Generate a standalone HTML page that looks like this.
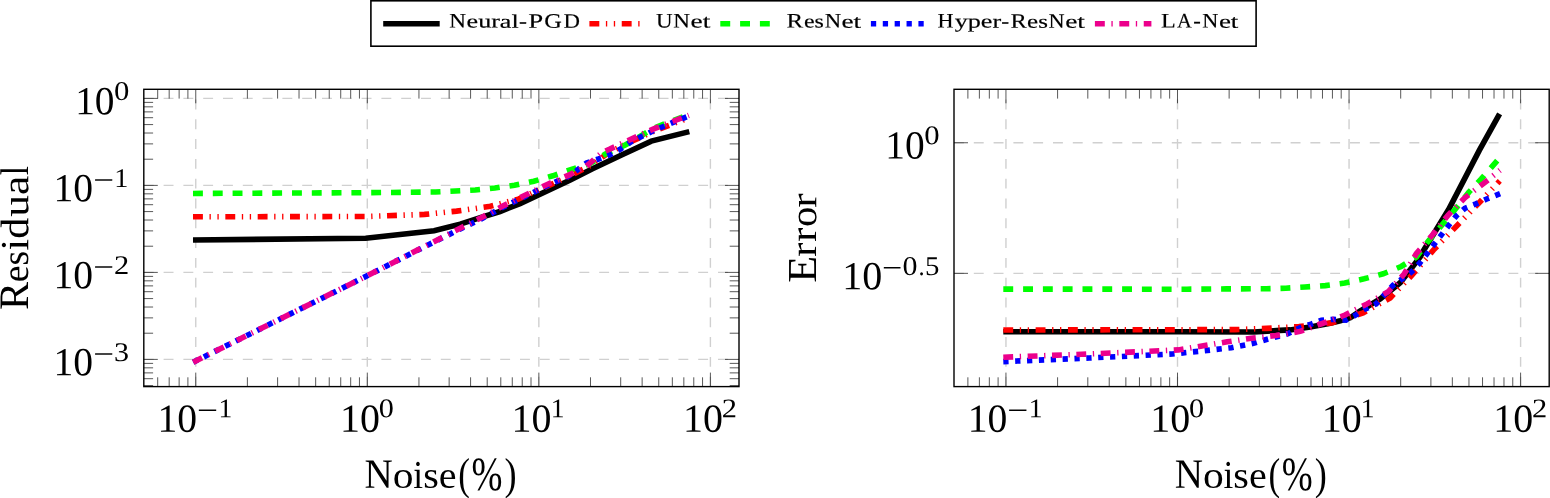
<!DOCTYPE html>
<html lang="en"><head><meta charset="utf-8"><title>Residual and Error vs Noise</title>
<style>html,body{margin:0;padding:0;background:#fff}svg{display:block}</style></head>
<body>
<svg width="1550" height="498" viewBox="0 0 1550 498" font-family="'Liberation Serif', serif" fill="#000" text-rendering="geometricPrecision">
<rect width="1550" height="498" fill="#fff"/>
<line x1="195.75" y1="386.6" x2="195.75" y2="89.3" stroke="#d0d0d0" stroke-width="1.4" stroke-dasharray="9.9 9.9"/>
<line x1="367.3" y1="386.6" x2="367.3" y2="89.3" stroke="#d0d0d0" stroke-width="1.4" stroke-dasharray="9.9 9.9"/>
<line x1="538.85" y1="386.6" x2="538.85" y2="89.3" stroke="#d0d0d0" stroke-width="1.4" stroke-dasharray="9.9 9.9"/>
<line x1="710.4" y1="386.6" x2="710.4" y2="89.3" stroke="#d0d0d0" stroke-width="1.4" stroke-dasharray="9.9 9.9"/>
<line x1="143.8" y1="98.4" x2="739" y2="98.4" stroke="#d0d0d0" stroke-width="1.4" stroke-dasharray="9.9 9.9"/>
<line x1="143.8" y1="185.4" x2="739" y2="185.4" stroke="#d0d0d0" stroke-width="1.4" stroke-dasharray="9.9 9.9"/>
<line x1="143.8" y1="272.4" x2="739" y2="272.4" stroke="#d0d0d0" stroke-width="1.4" stroke-dasharray="9.9 9.9"/>
<line x1="143.8" y1="359.4" x2="739" y2="359.4" stroke="#d0d0d0" stroke-width="1.4" stroke-dasharray="9.9 9.9"/>
<line x1="157.69" y1="386.6" x2="157.69" y2="377.3" stroke="#000" stroke-width="0.66"/>
<line x1="157.69" y1="89.3" x2="157.69" y2="98.6" stroke="#000" stroke-width="0.66"/>
<line x1="169.18" y1="386.6" x2="169.18" y2="377.3" stroke="#000" stroke-width="0.66"/>
<line x1="169.18" y1="89.3" x2="169.18" y2="98.6" stroke="#000" stroke-width="0.66"/>
<line x1="179.13" y1="386.6" x2="179.13" y2="377.3" stroke="#000" stroke-width="0.66"/>
<line x1="179.13" y1="89.3" x2="179.13" y2="98.6" stroke="#000" stroke-width="0.66"/>
<line x1="187.9" y1="386.6" x2="187.9" y2="377.3" stroke="#000" stroke-width="0.66"/>
<line x1="187.9" y1="89.3" x2="187.9" y2="98.6" stroke="#000" stroke-width="0.66"/>
<line x1="247.39" y1="386.6" x2="247.39" y2="377.3" stroke="#000" stroke-width="0.66"/>
<line x1="247.39" y1="89.3" x2="247.39" y2="98.6" stroke="#000" stroke-width="0.66"/>
<line x1="277.6" y1="386.6" x2="277.6" y2="377.3" stroke="#000" stroke-width="0.66"/>
<line x1="277.6" y1="89.3" x2="277.6" y2="98.6" stroke="#000" stroke-width="0.66"/>
<line x1="299.03" y1="386.6" x2="299.03" y2="377.3" stroke="#000" stroke-width="0.66"/>
<line x1="299.03" y1="89.3" x2="299.03" y2="98.6" stroke="#000" stroke-width="0.66"/>
<line x1="315.66" y1="386.6" x2="315.66" y2="377.3" stroke="#000" stroke-width="0.66"/>
<line x1="315.66" y1="89.3" x2="315.66" y2="98.6" stroke="#000" stroke-width="0.66"/>
<line x1="329.24" y1="386.6" x2="329.24" y2="377.3" stroke="#000" stroke-width="0.66"/>
<line x1="329.24" y1="89.3" x2="329.24" y2="98.6" stroke="#000" stroke-width="0.66"/>
<line x1="340.73" y1="386.6" x2="340.73" y2="377.3" stroke="#000" stroke-width="0.66"/>
<line x1="340.73" y1="89.3" x2="340.73" y2="98.6" stroke="#000" stroke-width="0.66"/>
<line x1="350.68" y1="386.6" x2="350.68" y2="377.3" stroke="#000" stroke-width="0.66"/>
<line x1="350.68" y1="89.3" x2="350.68" y2="98.6" stroke="#000" stroke-width="0.66"/>
<line x1="359.45" y1="386.6" x2="359.45" y2="377.3" stroke="#000" stroke-width="0.66"/>
<line x1="359.45" y1="89.3" x2="359.45" y2="98.6" stroke="#000" stroke-width="0.66"/>
<line x1="418.94" y1="386.6" x2="418.94" y2="377.3" stroke="#000" stroke-width="0.66"/>
<line x1="418.94" y1="89.3" x2="418.94" y2="98.6" stroke="#000" stroke-width="0.66"/>
<line x1="449.15" y1="386.6" x2="449.15" y2="377.3" stroke="#000" stroke-width="0.66"/>
<line x1="449.15" y1="89.3" x2="449.15" y2="98.6" stroke="#000" stroke-width="0.66"/>
<line x1="470.58" y1="386.6" x2="470.58" y2="377.3" stroke="#000" stroke-width="0.66"/>
<line x1="470.58" y1="89.3" x2="470.58" y2="98.6" stroke="#000" stroke-width="0.66"/>
<line x1="487.21" y1="386.6" x2="487.21" y2="377.3" stroke="#000" stroke-width="0.66"/>
<line x1="487.21" y1="89.3" x2="487.21" y2="98.6" stroke="#000" stroke-width="0.66"/>
<line x1="500.79" y1="386.6" x2="500.79" y2="377.3" stroke="#000" stroke-width="0.66"/>
<line x1="500.79" y1="89.3" x2="500.79" y2="98.6" stroke="#000" stroke-width="0.66"/>
<line x1="512.28" y1="386.6" x2="512.28" y2="377.3" stroke="#000" stroke-width="0.66"/>
<line x1="512.28" y1="89.3" x2="512.28" y2="98.6" stroke="#000" stroke-width="0.66"/>
<line x1="522.23" y1="386.6" x2="522.23" y2="377.3" stroke="#000" stroke-width="0.66"/>
<line x1="522.23" y1="89.3" x2="522.23" y2="98.6" stroke="#000" stroke-width="0.66"/>
<line x1="531" y1="386.6" x2="531" y2="377.3" stroke="#000" stroke-width="0.66"/>
<line x1="531" y1="89.3" x2="531" y2="98.6" stroke="#000" stroke-width="0.66"/>
<line x1="590.49" y1="386.6" x2="590.49" y2="377.3" stroke="#000" stroke-width="0.66"/>
<line x1="590.49" y1="89.3" x2="590.49" y2="98.6" stroke="#000" stroke-width="0.66"/>
<line x1="620.7" y1="386.6" x2="620.7" y2="377.3" stroke="#000" stroke-width="0.66"/>
<line x1="620.7" y1="89.3" x2="620.7" y2="98.6" stroke="#000" stroke-width="0.66"/>
<line x1="642.13" y1="386.6" x2="642.13" y2="377.3" stroke="#000" stroke-width="0.66"/>
<line x1="642.13" y1="89.3" x2="642.13" y2="98.6" stroke="#000" stroke-width="0.66"/>
<line x1="658.76" y1="386.6" x2="658.76" y2="377.3" stroke="#000" stroke-width="0.66"/>
<line x1="658.76" y1="89.3" x2="658.76" y2="98.6" stroke="#000" stroke-width="0.66"/>
<line x1="672.34" y1="386.6" x2="672.34" y2="377.3" stroke="#000" stroke-width="0.66"/>
<line x1="672.34" y1="89.3" x2="672.34" y2="98.6" stroke="#000" stroke-width="0.66"/>
<line x1="683.83" y1="386.6" x2="683.83" y2="377.3" stroke="#000" stroke-width="0.66"/>
<line x1="683.83" y1="89.3" x2="683.83" y2="98.6" stroke="#000" stroke-width="0.66"/>
<line x1="693.78" y1="386.6" x2="693.78" y2="377.3" stroke="#000" stroke-width="0.66"/>
<line x1="693.78" y1="89.3" x2="693.78" y2="98.6" stroke="#000" stroke-width="0.66"/>
<line x1="702.55" y1="386.6" x2="702.55" y2="377.3" stroke="#000" stroke-width="0.66"/>
<line x1="702.55" y1="89.3" x2="702.55" y2="98.6" stroke="#000" stroke-width="0.66"/>
<line x1="195.75" y1="386.6" x2="195.75" y2="372.6" stroke="#000" stroke-width="0.66"/>
<line x1="195.75" y1="89.3" x2="195.75" y2="103.3" stroke="#000" stroke-width="0.66"/>
<line x1="367.3" y1="386.6" x2="367.3" y2="372.6" stroke="#000" stroke-width="0.66"/>
<line x1="367.3" y1="89.3" x2="367.3" y2="103.3" stroke="#000" stroke-width="0.66"/>
<line x1="538.85" y1="386.6" x2="538.85" y2="372.6" stroke="#000" stroke-width="0.66"/>
<line x1="538.85" y1="89.3" x2="538.85" y2="103.3" stroke="#000" stroke-width="0.66"/>
<line x1="710.4" y1="386.6" x2="710.4" y2="372.6" stroke="#000" stroke-width="0.66"/>
<line x1="710.4" y1="89.3" x2="710.4" y2="103.3" stroke="#000" stroke-width="0.66"/>
<line x1="143.8" y1="385.59" x2="153.1" y2="385.59" stroke="#000" stroke-width="0.66"/>
<line x1="739" y1="385.59" x2="729.7" y2="385.59" stroke="#000" stroke-width="0.66"/>
<line x1="143.8" y1="378.7" x2="153.1" y2="378.7" stroke="#000" stroke-width="0.66"/>
<line x1="739" y1="378.7" x2="729.7" y2="378.7" stroke="#000" stroke-width="0.66"/>
<line x1="143.8" y1="372.88" x2="153.1" y2="372.88" stroke="#000" stroke-width="0.66"/>
<line x1="739" y1="372.88" x2="729.7" y2="372.88" stroke="#000" stroke-width="0.66"/>
<line x1="143.8" y1="367.83" x2="153.1" y2="367.83" stroke="#000" stroke-width="0.66"/>
<line x1="739" y1="367.83" x2="729.7" y2="367.83" stroke="#000" stroke-width="0.66"/>
<line x1="143.8" y1="363.38" x2="153.1" y2="363.38" stroke="#000" stroke-width="0.66"/>
<line x1="739" y1="363.38" x2="729.7" y2="363.38" stroke="#000" stroke-width="0.66"/>
<line x1="143.8" y1="333.21" x2="153.1" y2="333.21" stroke="#000" stroke-width="0.66"/>
<line x1="739" y1="333.21" x2="729.7" y2="333.21" stroke="#000" stroke-width="0.66"/>
<line x1="143.8" y1="317.89" x2="153.1" y2="317.89" stroke="#000" stroke-width="0.66"/>
<line x1="739" y1="317.89" x2="729.7" y2="317.89" stroke="#000" stroke-width="0.66"/>
<line x1="143.8" y1="307.02" x2="153.1" y2="307.02" stroke="#000" stroke-width="0.66"/>
<line x1="739" y1="307.02" x2="729.7" y2="307.02" stroke="#000" stroke-width="0.66"/>
<line x1="143.8" y1="298.59" x2="153.1" y2="298.59" stroke="#000" stroke-width="0.66"/>
<line x1="739" y1="298.59" x2="729.7" y2="298.59" stroke="#000" stroke-width="0.66"/>
<line x1="143.8" y1="291.7" x2="153.1" y2="291.7" stroke="#000" stroke-width="0.66"/>
<line x1="739" y1="291.7" x2="729.7" y2="291.7" stroke="#000" stroke-width="0.66"/>
<line x1="143.8" y1="285.88" x2="153.1" y2="285.88" stroke="#000" stroke-width="0.66"/>
<line x1="739" y1="285.88" x2="729.7" y2="285.88" stroke="#000" stroke-width="0.66"/>
<line x1="143.8" y1="280.83" x2="153.1" y2="280.83" stroke="#000" stroke-width="0.66"/>
<line x1="739" y1="280.83" x2="729.7" y2="280.83" stroke="#000" stroke-width="0.66"/>
<line x1="143.8" y1="276.38" x2="153.1" y2="276.38" stroke="#000" stroke-width="0.66"/>
<line x1="739" y1="276.38" x2="729.7" y2="276.38" stroke="#000" stroke-width="0.66"/>
<line x1="143.8" y1="246.21" x2="153.1" y2="246.21" stroke="#000" stroke-width="0.66"/>
<line x1="739" y1="246.21" x2="729.7" y2="246.21" stroke="#000" stroke-width="0.66"/>
<line x1="143.8" y1="230.89" x2="153.1" y2="230.89" stroke="#000" stroke-width="0.66"/>
<line x1="739" y1="230.89" x2="729.7" y2="230.89" stroke="#000" stroke-width="0.66"/>
<line x1="143.8" y1="220.02" x2="153.1" y2="220.02" stroke="#000" stroke-width="0.66"/>
<line x1="739" y1="220.02" x2="729.7" y2="220.02" stroke="#000" stroke-width="0.66"/>
<line x1="143.8" y1="211.59" x2="153.1" y2="211.59" stroke="#000" stroke-width="0.66"/>
<line x1="739" y1="211.59" x2="729.7" y2="211.59" stroke="#000" stroke-width="0.66"/>
<line x1="143.8" y1="204.7" x2="153.1" y2="204.7" stroke="#000" stroke-width="0.66"/>
<line x1="739" y1="204.7" x2="729.7" y2="204.7" stroke="#000" stroke-width="0.66"/>
<line x1="143.8" y1="198.88" x2="153.1" y2="198.88" stroke="#000" stroke-width="0.66"/>
<line x1="739" y1="198.88" x2="729.7" y2="198.88" stroke="#000" stroke-width="0.66"/>
<line x1="143.8" y1="193.83" x2="153.1" y2="193.83" stroke="#000" stroke-width="0.66"/>
<line x1="739" y1="193.83" x2="729.7" y2="193.83" stroke="#000" stroke-width="0.66"/>
<line x1="143.8" y1="189.38" x2="153.1" y2="189.38" stroke="#000" stroke-width="0.66"/>
<line x1="739" y1="189.38" x2="729.7" y2="189.38" stroke="#000" stroke-width="0.66"/>
<line x1="143.8" y1="159.21" x2="153.1" y2="159.21" stroke="#000" stroke-width="0.66"/>
<line x1="739" y1="159.21" x2="729.7" y2="159.21" stroke="#000" stroke-width="0.66"/>
<line x1="143.8" y1="143.89" x2="153.1" y2="143.89" stroke="#000" stroke-width="0.66"/>
<line x1="739" y1="143.89" x2="729.7" y2="143.89" stroke="#000" stroke-width="0.66"/>
<line x1="143.8" y1="133.02" x2="153.1" y2="133.02" stroke="#000" stroke-width="0.66"/>
<line x1="739" y1="133.02" x2="729.7" y2="133.02" stroke="#000" stroke-width="0.66"/>
<line x1="143.8" y1="124.59" x2="153.1" y2="124.59" stroke="#000" stroke-width="0.66"/>
<line x1="739" y1="124.59" x2="729.7" y2="124.59" stroke="#000" stroke-width="0.66"/>
<line x1="143.8" y1="117.7" x2="153.1" y2="117.7" stroke="#000" stroke-width="0.66"/>
<line x1="739" y1="117.7" x2="729.7" y2="117.7" stroke="#000" stroke-width="0.66"/>
<line x1="143.8" y1="111.88" x2="153.1" y2="111.88" stroke="#000" stroke-width="0.66"/>
<line x1="739" y1="111.88" x2="729.7" y2="111.88" stroke="#000" stroke-width="0.66"/>
<line x1="143.8" y1="106.83" x2="153.1" y2="106.83" stroke="#000" stroke-width="0.66"/>
<line x1="739" y1="106.83" x2="729.7" y2="106.83" stroke="#000" stroke-width="0.66"/>
<line x1="143.8" y1="102.38" x2="153.1" y2="102.38" stroke="#000" stroke-width="0.66"/>
<line x1="739" y1="102.38" x2="729.7" y2="102.38" stroke="#000" stroke-width="0.66"/>
<line x1="143.8" y1="98.4" x2="157.8" y2="98.4" stroke="#000" stroke-width="0.66"/>
<line x1="739" y1="98.4" x2="725" y2="98.4" stroke="#000" stroke-width="0.66"/>
<line x1="143.8" y1="185.4" x2="157.8" y2="185.4" stroke="#000" stroke-width="0.66"/>
<line x1="739" y1="185.4" x2="725" y2="185.4" stroke="#000" stroke-width="0.66"/>
<line x1="143.8" y1="272.4" x2="157.8" y2="272.4" stroke="#000" stroke-width="0.66"/>
<line x1="739" y1="272.4" x2="725" y2="272.4" stroke="#000" stroke-width="0.66"/>
<line x1="143.8" y1="359.4" x2="157.8" y2="359.4" stroke="#000" stroke-width="0.66"/>
<line x1="739" y1="359.4" x2="725" y2="359.4" stroke="#000" stroke-width="0.66"/>
<path d="M193 240 L365.7 238.2 L434.1 230.8 L460.2 224.1 L480.3 217.6 L500 211.5 L520 203.6 L570.3 180 L592 169 L622.1 154.7 L651.3 141.1 L689.3 131.6" fill="none" stroke="#000" stroke-width="5.6" stroke-linejoin="miter"/>
<path d="M193 216.8 L367 216.5 L424.5 214.4 L456.6 211.1 L488.8 206.6 L518.4 199.1 L546.7 186.5 L568.8 176.5 L590.4 165.5 L609.8 152 L632.4 141 L654.3 131 L676.4 122.5 L688.8 118" fill="none" stroke="#ff0000" stroke-width="5.6" stroke-linejoin="miter" stroke-dasharray="9.9 6.6 1.32 6.6 1.32 6.6"/>
<path d="M193 193.45 L367 192.7 L435.6 192 L455.6 191 L475.2 190 L494.8 188 L514.5 185.3 L533.8 181.2 L552.9 175.8 L571.5 169.4 L590.4 163.5 L605 154.3 L625.3 145 L640 136.5 L654.3 127.9 L676.4 119.3 L688.8 114.6" fill="none" stroke="#00ff00" stroke-width="5.6" stroke-linejoin="miter" stroke-dasharray="9.9 9.9"/>
<path d="M193.2 362.2 L367.1 275.8 L430 244 L460.2 229 L481.2 218.9 L502.8 207.3 L546.7 185.9 L568.8 176 L576.8 170.5 L586.5 163 L598.5 159 L609.4 155 L619.8 149.5 L632.4 141 L654.3 130.3 L676.4 121 L688.8 116" fill="none" stroke="#0000ff" stroke-width="5.6" stroke-linejoin="miter" stroke-dasharray="5.28 6.6"/>
<path d="M193.2 362.2 L367.1 275.8 L460.2 228.2 L481.2 217.7 L502.8 206.1 L546.7 184.7 L568.8 175.1 L586 166.5 L602 152.5 L609.8 149.1 L632.4 138.6 L654.3 128.6 L676.4 120 L688.8 115.4" fill="none" stroke="#ec008c" stroke-width="5.6" stroke-linejoin="miter" stroke-dasharray="9.9 6.6 1.32 6.6"/>
<rect x="143.8" y="89.3" width="595.2" height="297.3" fill="none" stroke="#000" stroke-width="1.4"/>
<line x1="1005.95" y1="386.6" x2="1005.95" y2="89.3" stroke="#d0d0d0" stroke-width="1.4" stroke-dasharray="9.9 9.9"/>
<line x1="1177.5" y1="386.6" x2="1177.5" y2="89.3" stroke="#d0d0d0" stroke-width="1.4" stroke-dasharray="9.9 9.9"/>
<line x1="1349.05" y1="386.6" x2="1349.05" y2="89.3" stroke="#d0d0d0" stroke-width="1.4" stroke-dasharray="9.9 9.9"/>
<line x1="1520.6" y1="386.6" x2="1520.6" y2="89.3" stroke="#d0d0d0" stroke-width="1.4" stroke-dasharray="9.9 9.9"/>
<line x1="954" y1="142.75" x2="1549.2" y2="142.75" stroke="#d0d0d0" stroke-width="1.4" stroke-dasharray="9.9 9.9"/>
<line x1="954" y1="273.35" x2="1549.2" y2="273.35" stroke="#d0d0d0" stroke-width="1.4" stroke-dasharray="9.9 9.9"/>
<line x1="967.89" y1="386.6" x2="967.89" y2="377.3" stroke="#000" stroke-width="0.66"/>
<line x1="967.89" y1="89.3" x2="967.89" y2="98.6" stroke="#000" stroke-width="0.66"/>
<line x1="979.38" y1="386.6" x2="979.38" y2="377.3" stroke="#000" stroke-width="0.66"/>
<line x1="979.38" y1="89.3" x2="979.38" y2="98.6" stroke="#000" stroke-width="0.66"/>
<line x1="989.33" y1="386.6" x2="989.33" y2="377.3" stroke="#000" stroke-width="0.66"/>
<line x1="989.33" y1="89.3" x2="989.33" y2="98.6" stroke="#000" stroke-width="0.66"/>
<line x1="998.1" y1="386.6" x2="998.1" y2="377.3" stroke="#000" stroke-width="0.66"/>
<line x1="998.1" y1="89.3" x2="998.1" y2="98.6" stroke="#000" stroke-width="0.66"/>
<line x1="1057.59" y1="386.6" x2="1057.59" y2="377.3" stroke="#000" stroke-width="0.66"/>
<line x1="1057.59" y1="89.3" x2="1057.59" y2="98.6" stroke="#000" stroke-width="0.66"/>
<line x1="1087.8" y1="386.6" x2="1087.8" y2="377.3" stroke="#000" stroke-width="0.66"/>
<line x1="1087.8" y1="89.3" x2="1087.8" y2="98.6" stroke="#000" stroke-width="0.66"/>
<line x1="1109.23" y1="386.6" x2="1109.23" y2="377.3" stroke="#000" stroke-width="0.66"/>
<line x1="1109.23" y1="89.3" x2="1109.23" y2="98.6" stroke="#000" stroke-width="0.66"/>
<line x1="1125.86" y1="386.6" x2="1125.86" y2="377.3" stroke="#000" stroke-width="0.66"/>
<line x1="1125.86" y1="89.3" x2="1125.86" y2="98.6" stroke="#000" stroke-width="0.66"/>
<line x1="1139.44" y1="386.6" x2="1139.44" y2="377.3" stroke="#000" stroke-width="0.66"/>
<line x1="1139.44" y1="89.3" x2="1139.44" y2="98.6" stroke="#000" stroke-width="0.66"/>
<line x1="1150.93" y1="386.6" x2="1150.93" y2="377.3" stroke="#000" stroke-width="0.66"/>
<line x1="1150.93" y1="89.3" x2="1150.93" y2="98.6" stroke="#000" stroke-width="0.66"/>
<line x1="1160.88" y1="386.6" x2="1160.88" y2="377.3" stroke="#000" stroke-width="0.66"/>
<line x1="1160.88" y1="89.3" x2="1160.88" y2="98.6" stroke="#000" stroke-width="0.66"/>
<line x1="1169.65" y1="386.6" x2="1169.65" y2="377.3" stroke="#000" stroke-width="0.66"/>
<line x1="1169.65" y1="89.3" x2="1169.65" y2="98.6" stroke="#000" stroke-width="0.66"/>
<line x1="1229.14" y1="386.6" x2="1229.14" y2="377.3" stroke="#000" stroke-width="0.66"/>
<line x1="1229.14" y1="89.3" x2="1229.14" y2="98.6" stroke="#000" stroke-width="0.66"/>
<line x1="1259.35" y1="386.6" x2="1259.35" y2="377.3" stroke="#000" stroke-width="0.66"/>
<line x1="1259.35" y1="89.3" x2="1259.35" y2="98.6" stroke="#000" stroke-width="0.66"/>
<line x1="1280.78" y1="386.6" x2="1280.78" y2="377.3" stroke="#000" stroke-width="0.66"/>
<line x1="1280.78" y1="89.3" x2="1280.78" y2="98.6" stroke="#000" stroke-width="0.66"/>
<line x1="1297.41" y1="386.6" x2="1297.41" y2="377.3" stroke="#000" stroke-width="0.66"/>
<line x1="1297.41" y1="89.3" x2="1297.41" y2="98.6" stroke="#000" stroke-width="0.66"/>
<line x1="1310.99" y1="386.6" x2="1310.99" y2="377.3" stroke="#000" stroke-width="0.66"/>
<line x1="1310.99" y1="89.3" x2="1310.99" y2="98.6" stroke="#000" stroke-width="0.66"/>
<line x1="1322.48" y1="386.6" x2="1322.48" y2="377.3" stroke="#000" stroke-width="0.66"/>
<line x1="1322.48" y1="89.3" x2="1322.48" y2="98.6" stroke="#000" stroke-width="0.66"/>
<line x1="1332.43" y1="386.6" x2="1332.43" y2="377.3" stroke="#000" stroke-width="0.66"/>
<line x1="1332.43" y1="89.3" x2="1332.43" y2="98.6" stroke="#000" stroke-width="0.66"/>
<line x1="1341.2" y1="386.6" x2="1341.2" y2="377.3" stroke="#000" stroke-width="0.66"/>
<line x1="1341.2" y1="89.3" x2="1341.2" y2="98.6" stroke="#000" stroke-width="0.66"/>
<line x1="1400.69" y1="386.6" x2="1400.69" y2="377.3" stroke="#000" stroke-width="0.66"/>
<line x1="1400.69" y1="89.3" x2="1400.69" y2="98.6" stroke="#000" stroke-width="0.66"/>
<line x1="1430.9" y1="386.6" x2="1430.9" y2="377.3" stroke="#000" stroke-width="0.66"/>
<line x1="1430.9" y1="89.3" x2="1430.9" y2="98.6" stroke="#000" stroke-width="0.66"/>
<line x1="1452.33" y1="386.6" x2="1452.33" y2="377.3" stroke="#000" stroke-width="0.66"/>
<line x1="1452.33" y1="89.3" x2="1452.33" y2="98.6" stroke="#000" stroke-width="0.66"/>
<line x1="1468.96" y1="386.6" x2="1468.96" y2="377.3" stroke="#000" stroke-width="0.66"/>
<line x1="1468.96" y1="89.3" x2="1468.96" y2="98.6" stroke="#000" stroke-width="0.66"/>
<line x1="1482.54" y1="386.6" x2="1482.54" y2="377.3" stroke="#000" stroke-width="0.66"/>
<line x1="1482.54" y1="89.3" x2="1482.54" y2="98.6" stroke="#000" stroke-width="0.66"/>
<line x1="1494.03" y1="386.6" x2="1494.03" y2="377.3" stroke="#000" stroke-width="0.66"/>
<line x1="1494.03" y1="89.3" x2="1494.03" y2="98.6" stroke="#000" stroke-width="0.66"/>
<line x1="1503.98" y1="386.6" x2="1503.98" y2="377.3" stroke="#000" stroke-width="0.66"/>
<line x1="1503.98" y1="89.3" x2="1503.98" y2="98.6" stroke="#000" stroke-width="0.66"/>
<line x1="1512.75" y1="386.6" x2="1512.75" y2="377.3" stroke="#000" stroke-width="0.66"/>
<line x1="1512.75" y1="89.3" x2="1512.75" y2="98.6" stroke="#000" stroke-width="0.66"/>
<line x1="1005.95" y1="386.6" x2="1005.95" y2="372.6" stroke="#000" stroke-width="0.66"/>
<line x1="1005.95" y1="89.3" x2="1005.95" y2="103.3" stroke="#000" stroke-width="0.66"/>
<line x1="1177.5" y1="386.6" x2="1177.5" y2="372.6" stroke="#000" stroke-width="0.66"/>
<line x1="1177.5" y1="89.3" x2="1177.5" y2="103.3" stroke="#000" stroke-width="0.66"/>
<line x1="1349.05" y1="386.6" x2="1349.05" y2="372.6" stroke="#000" stroke-width="0.66"/>
<line x1="1349.05" y1="89.3" x2="1349.05" y2="103.3" stroke="#000" stroke-width="0.66"/>
<line x1="1520.6" y1="386.6" x2="1520.6" y2="372.6" stroke="#000" stroke-width="0.66"/>
<line x1="1520.6" y1="89.3" x2="1520.6" y2="103.3" stroke="#000" stroke-width="0.66"/>
<line x1="954" y1="142.75" x2="968" y2="142.75" stroke="#000" stroke-width="0.66"/>
<line x1="1549.2" y1="142.75" x2="1535.2" y2="142.75" stroke="#000" stroke-width="0.66"/>
<line x1="954" y1="273.35" x2="968" y2="273.35" stroke="#000" stroke-width="0.66"/>
<line x1="1549.2" y1="273.35" x2="1535.2" y2="273.35" stroke="#000" stroke-width="0.66"/>
<path d="M1003.3 331.7 L1181 331.7 L1254 332 L1280 330.4 L1290 329.9 L1310.2 327 L1330.2 323.3 L1340.3 320.7 L1350.3 317.7 L1360 311 L1380.2 298.9 L1400.2 282.8 L1420.3 256.7 L1423.9 250 L1448.6 209.5 L1479.3 150.4 L1499.6 113.9" fill="none" stroke="#000" stroke-width="5.6" stroke-linejoin="miter"/>
<path d="M1003.3 330 L1235 329.6 L1266.4 328.4 L1299 326.6 L1331.5 322.9 L1363.1 312.9 L1390.2 297.9 L1411.3 275.8 L1433.4 250.1 L1455.7 227 L1478.9 203 L1499.8 180.9" fill="none" stroke="#ff0000" stroke-width="5.6" stroke-linejoin="miter" stroke-dasharray="9.8942 6.5962 1.3192 6.5962 1.3192 6.5962"/>
<path d="M1003.3 289.1 L1186.9 289.2 L1226.6 288.9 L1266.4 288.7 L1285.7 288.2 L1305 287 L1325.4 285.6 L1344.7 283.1 L1364.1 278.8 L1383.2 273.8 L1401.2 266.5 L1416.3 257.1 L1428.4 241 L1454.2 210.5 L1468.7 192.4 L1481.3 178.9 L1498.6 159" fill="none" stroke="#00ff00" stroke-width="5.6" stroke-linejoin="miter" stroke-dasharray="9.9 9.9"/>
<path d="M1003.3 361.6 L1089.4 358 L1172.4 354 L1207.3 350.4 L1231.4 347.7 L1254.3 343.1 L1266.4 339.5 L1288.1 333.7 L1299.4 328 L1311.1 324.1 L1321.5 320.3 L1333.5 319.3 L1346 320.1 L1356 314.9 L1364.8 309.2 L1376.1 303.9 L1393.2 285.2 L1411.3 272.2 L1419.7 263.1 L1427 253.8 L1434.4 244 L1449.1 224.9 L1456.3 215.9 L1464.8 208.4 L1475.9 203.9 L1486.7 199 L1500.2 193.6" fill="none" stroke="#0000ff" stroke-width="5.6" stroke-linejoin="miter" stroke-dasharray="5.2751 6.5939"/>
<path d="M1003.3 357.2 L1081.8 354.3 L1178.4 349.9 L1203.3 345.8 L1227.3 341.8 L1251.4 338.2 L1276 335.5 L1300.1 331.4 L1322.3 323.5 L1345 315 L1367.1 303.9 L1388.2 291.8 L1404.3 273.8 L1416.3 253.7 L1432.4 235 L1448.2 215 L1464.8 197.8 L1483.7 183.4 L1500 170.3" fill="none" stroke="#ec008c" stroke-width="5.6" stroke-linejoin="miter" stroke-dasharray="9.8803 6.5868 1.3174 6.5868"/>
<rect x="954" y="89.3" width="595.2" height="297.3" fill="none" stroke="#000" stroke-width="1.4"/>
<text transform="translate(157.57 431.7) rotate(0.03)"><tspan x="0" y="0" font-size="39.8" textLength="39.59" lengthAdjust="spacingAndGlyphs">10</tspan><tspan x="39.53" y="-12.45" font-size="27" textLength="20.97" lengthAdjust="spacingAndGlyphs">−</tspan><tspan x="60.86" y="-14.4" font-size="27" textLength="13.78" lengthAdjust="spacingAndGlyphs">1</tspan></text>
<text transform="translate(339.99 431.7) rotate(0.03)"><tspan x="0" y="0" font-size="39.8" textLength="39.93" lengthAdjust="spacingAndGlyphs">10</tspan><tspan x="38.76" y="-14.4" font-size="27" textLength="15.1" lengthAdjust="spacingAndGlyphs">0</tspan></text>
<text transform="translate(511.54 431.7) rotate(0.03)"><tspan x="0" y="0" font-size="39.8" textLength="39.93" lengthAdjust="spacingAndGlyphs">10</tspan><tspan x="39.09" y="-14.4" font-size="27" textLength="13.78" lengthAdjust="spacingAndGlyphs">1</tspan></text>
<text transform="translate(683.09 431.7) rotate(0.03)"><tspan x="0" y="0" font-size="39.8" textLength="39.93" lengthAdjust="spacingAndGlyphs">10</tspan><tspan x="38.67" y="-14.4" font-size="27" textLength="15.22" lengthAdjust="spacingAndGlyphs">2</tspan></text>
<text transform="translate(967.77 431.7) rotate(0.03)"><tspan x="0" y="0" font-size="39.8" textLength="39.59" lengthAdjust="spacingAndGlyphs">10</tspan><tspan x="39.53" y="-12.45" font-size="27" textLength="20.97" lengthAdjust="spacingAndGlyphs">−</tspan><tspan x="60.86" y="-14.4" font-size="27" textLength="13.78" lengthAdjust="spacingAndGlyphs">1</tspan></text>
<text transform="translate(1150.19 431.7) rotate(0.03)"><tspan x="0" y="0" font-size="39.8" textLength="39.93" lengthAdjust="spacingAndGlyphs">10</tspan><tspan x="38.76" y="-14.4" font-size="27" textLength="15.1" lengthAdjust="spacingAndGlyphs">0</tspan></text>
<text transform="translate(1321.74 431.7) rotate(0.03)"><tspan x="0" y="0" font-size="39.8" textLength="39.93" lengthAdjust="spacingAndGlyphs">10</tspan><tspan x="39.09" y="-14.4" font-size="27" textLength="13.78" lengthAdjust="spacingAndGlyphs">1</tspan></text>
<text transform="translate(1493.29 431.7) rotate(0.03)"><tspan x="0" y="0" font-size="39.8" textLength="39.93" lengthAdjust="spacingAndGlyphs">10</tspan><tspan x="38.67" y="-14.4" font-size="27" textLength="15.22" lengthAdjust="spacingAndGlyphs">2</tspan></text>
<text transform="translate(75.14 114.2) rotate(0.03)"><tspan x="0" y="0" font-size="39.8" textLength="39.36" lengthAdjust="spacingAndGlyphs">10</tspan><tspan x="38.89" y="-14.3" font-size="27" textLength="15.34" lengthAdjust="spacingAndGlyphs">0</tspan></text>
<text transform="translate(53.52 201.2) rotate(0.03)"><tspan x="0" y="0" font-size="39.8" textLength="39.59" lengthAdjust="spacingAndGlyphs">10</tspan><tspan x="39.64" y="-12.35" font-size="27" textLength="20.85" lengthAdjust="spacingAndGlyphs">−</tspan><tspan x="60.81" y="-14.3" font-size="27" textLength="14.06" lengthAdjust="spacingAndGlyphs">1</tspan></text>
<text transform="translate(53.52 288.2) rotate(0.03)"><tspan x="0" y="0" font-size="39.8" textLength="39.59" lengthAdjust="spacingAndGlyphs">10</tspan><tspan x="39.64" y="-12.35" font-size="27" textLength="20.85" lengthAdjust="spacingAndGlyphs">−</tspan><tspan x="60.54" y="-14.3" font-size="27" textLength="15.22" lengthAdjust="spacingAndGlyphs">2</tspan></text>
<text transform="translate(53.52 375.2) rotate(0.03)"><tspan x="0" y="0" font-size="39.8" textLength="39.59" lengthAdjust="spacingAndGlyphs">10</tspan><tspan x="39.64" y="-12.35" font-size="27" textLength="20.85" lengthAdjust="spacingAndGlyphs">−</tspan><tspan x="60.44" y="-14.3" font-size="27" textLength="15.01" lengthAdjust="spacingAndGlyphs">3</tspan></text>
<text transform="translate(885.34 158.55) rotate(0.03)"><tspan x="0" y="0" font-size="39.8" textLength="39.36" lengthAdjust="spacingAndGlyphs">10</tspan><tspan x="38.89" y="-14.3" font-size="27" textLength="15.34" lengthAdjust="spacingAndGlyphs">0</tspan></text>
<text transform="translate(842.18 289.15) rotate(0.03)"><tspan x="0" y="0" font-size="39.8" textLength="40.04" lengthAdjust="spacingAndGlyphs">10</tspan><tspan x="39.93" y="-12.35" font-size="27" textLength="20.24" lengthAdjust="spacingAndGlyphs">−</tspan><tspan x="60.28" y="-14.3" font-size="27" textLength="14.98" lengthAdjust="spacingAndGlyphs">0</tspan><tspan x="76.2" y="-14.3" font-size="27" textLength="6.14" lengthAdjust="spacingAndGlyphs">.</tspan><tspan x="82.75" y="-14.3" font-size="27" textLength="14.4" lengthAdjust="spacingAndGlyphs">5</tspan></text>
<text transform="translate(364.57 487.8) rotate(0.03)"><tspan x="0" y="0" font-size="41.6" textLength="28.22" lengthAdjust="spacingAndGlyphs">N</tspan><tspan x="28.14" y="0" font-size="37.6" textLength="20.76" lengthAdjust="spacingAndGlyphs">o</tspan><tspan x="48.68" y="0" font-size="39.6" textLength="9.81" lengthAdjust="spacingAndGlyphs">i</tspan><tspan x="58.58" y="0" font-size="37.6" textLength="33.33" lengthAdjust="spacingAndGlyphs">se</tspan><tspan x="93.69" y="1.5" font-size="44.8" textLength="11.67" lengthAdjust="spacingAndGlyphs">(</tspan><tspan x="107.06" y="1.8" font-size="47.6" textLength="30.94" lengthAdjust="spacingAndGlyphs">%</tspan><tspan x="139.86" y="1.5" font-size="44.8" textLength="12.06" lengthAdjust="spacingAndGlyphs">)</tspan></text>
<text transform="translate(1174.77 487.8) rotate(0.03)"><tspan x="0" y="0" font-size="41.6" textLength="28.22" lengthAdjust="spacingAndGlyphs">N</tspan><tspan x="28.14" y="0" font-size="37.6" textLength="20.76" lengthAdjust="spacingAndGlyphs">o</tspan><tspan x="48.68" y="0" font-size="39.6" textLength="9.81" lengthAdjust="spacingAndGlyphs">i</tspan><tspan x="58.58" y="0" font-size="37.6" textLength="33.33" lengthAdjust="spacingAndGlyphs">se</tspan><tspan x="93.69" y="1.5" font-size="44.8" textLength="11.67" lengthAdjust="spacingAndGlyphs">(</tspan><tspan x="107.06" y="1.8" font-size="47.6" textLength="30.94" lengthAdjust="spacingAndGlyphs">%</tspan><tspan x="139.86" y="1.5" font-size="44.8" textLength="12.06" lengthAdjust="spacingAndGlyphs">)</tspan></text>
<text transform="translate(28.1 310.01) rotate(-89.97)"><tspan x="0" y="0" font-size="42" textLength="28.07" lengthAdjust="spacingAndGlyphs">R</tspan><tspan x="27.83" y="0" font-size="37.6" textLength="31.55" lengthAdjust="spacingAndGlyphs">es</tspan><tspan x="59.45" y="0" font-size="40" textLength="11.45" lengthAdjust="spacingAndGlyphs">i</tspan><tspan x="71.29" y="0" font-size="40" textLength="21.03" lengthAdjust="spacingAndGlyphs">d</tspan><tspan x="93.34" y="0" font-size="37.6" textLength="41.07" lengthAdjust="spacingAndGlyphs">ua</tspan><tspan x="134.65" y="0" font-size="40" textLength="9.23" lengthAdjust="spacingAndGlyphs">l</tspan></text>
<text transform="translate(816.1 282.87) rotate(-89.97)"><tspan x="0" y="0" font-size="41.2" textLength="26.86" lengthAdjust="spacingAndGlyphs">E</tspan><tspan x="26.22" y="0" font-size="37.6" textLength="14.12" lengthAdjust="spacingAndGlyphs">r</tspan><tspan x="41.12" y="0" font-size="37.6" textLength="14.01" lengthAdjust="spacingAndGlyphs">r</tspan><tspan x="55.81" y="0" font-size="37.6" textLength="20.41" lengthAdjust="spacingAndGlyphs">o</tspan><tspan x="75.2" y="0" font-size="37.6" textLength="14.45" lengthAdjust="spacingAndGlyphs">r</tspan></text>
<rect x="370.9" y="0.8" width="885.2" height="45.4" fill="#fff" stroke="#000" stroke-width="1.6"/>
<path d="M383.2 23.7 L439.7 23.7" fill="none" stroke="#000" stroke-width="5.6"/>
<path d="M589.4 23.7 L645.9 23.7" fill="none" stroke="#ff0000" stroke-width="5.6" stroke-dasharray="9.9 6.6 1.32 6.6 1.32 6.6"/>
<path d="M720.3 23.7 L776.8 23.7" fill="none" stroke="#00ff00" stroke-width="5.6" stroke-dasharray="9.9 9.9"/>
<path d="M870.9 23.7 L927.4 23.7" fill="none" stroke="#0000ff" stroke-width="5.6" stroke-dasharray="5.28 6.6"/>
<path d="M1094.9 23.7 L1151.4 23.7" fill="none" stroke="#ec008c" stroke-width="5.6" stroke-dasharray="9.9 6.6 1.32 6.6"/>
<text transform="translate(449.23 27.6) rotate(0.03)" stroke="#000" stroke-width="0.18"><tspan x="0" y="0" font-size="20.6" textLength="16.75" lengthAdjust="spacingAndGlyphs">N</tspan><tspan x="17.35" y="0" font-size="19.16" textLength="52.14" lengthAdjust="spacingAndGlyphs">eural</tspan><tspan x="69.68" y="0" font-size="20.6" textLength="7.95" lengthAdjust="spacingAndGlyphs">-</tspan><tspan x="79.09" y="0" font-size="20.6" textLength="14.95" lengthAdjust="spacingAndGlyphs">P</tspan><tspan x="94.97" y="0" font-size="20.6" textLength="17.56" lengthAdjust="spacingAndGlyphs">G</tspan><tspan x="114.21" y="0" font-size="20.6" textLength="16.47" lengthAdjust="spacingAndGlyphs">D</tspan></text>
<text transform="translate(656.12 27.6) rotate(0.03)" stroke="#000" stroke-width="0.18"><tspan x="0" y="0" font-size="20.6" textLength="16.56" lengthAdjust="spacingAndGlyphs">U</tspan><tspan x="17.22" y="0" font-size="20.6" textLength="16.7" lengthAdjust="spacingAndGlyphs">N</tspan><tspan x="34.41" y="0" font-size="19.16" textLength="19.73" lengthAdjust="spacingAndGlyphs">et</tspan></text>
<text transform="translate(786.48 27.6) rotate(0.03)" stroke="#000" stroke-width="0.18"><tspan x="0" y="0" font-size="20.6" textLength="16.66" lengthAdjust="spacingAndGlyphs">R</tspan><tspan x="17.49" y="0" font-size="19.16" textLength="19.9" lengthAdjust="spacingAndGlyphs">es</tspan><tspan x="38.37" y="0" font-size="20.6" textLength="16.37" lengthAdjust="spacingAndGlyphs">N</tspan><tspan x="54.96" y="0" font-size="19.16" textLength="19.62" lengthAdjust="spacingAndGlyphs">et</tspan></text>
<text transform="translate(937.61 27.6) rotate(0.03)" stroke="#000" stroke-width="0.18"><tspan x="0" y="0" font-size="20.6" textLength="16.04" lengthAdjust="spacingAndGlyphs">H</tspan><tspan x="17.07" y="0" font-size="19.16" textLength="46.55" lengthAdjust="spacingAndGlyphs">yper</tspan><tspan x="63.61" y="0" font-size="20.6" textLength="7.88" lengthAdjust="spacingAndGlyphs">-</tspan><tspan x="72.88" y="0" font-size="20.6" textLength="16.34" lengthAdjust="spacingAndGlyphs">R</tspan><tspan x="89.52" y="0" font-size="19.16" textLength="20.78" lengthAdjust="spacingAndGlyphs">es</tspan><tspan x="110.85" y="0" font-size="20.6" textLength="16.05" lengthAdjust="spacingAndGlyphs">N</tspan><tspan x="127.57" y="0" font-size="19.16" textLength="19.78" lengthAdjust="spacingAndGlyphs">et</tspan></text>
<text transform="translate(1161 27.6) rotate(0.03)" stroke="#000" stroke-width="0.18"><tspan x="0" y="0" font-size="20.6" textLength="14.75" lengthAdjust="spacingAndGlyphs">L</tspan><tspan x="16.09" y="0" font-size="20.6" textLength="14.85" lengthAdjust="spacingAndGlyphs">A</tspan><tspan x="32.15" y="0" font-size="20.6" textLength="7.56" lengthAdjust="spacingAndGlyphs">-</tspan><tspan x="41.26" y="0" font-size="20.6" textLength="16.05" lengthAdjust="spacingAndGlyphs">N</tspan><tspan x="57.94" y="0" font-size="19.16" textLength="19.41" lengthAdjust="spacingAndGlyphs">et</tspan></text>
</svg>
</body></html>
